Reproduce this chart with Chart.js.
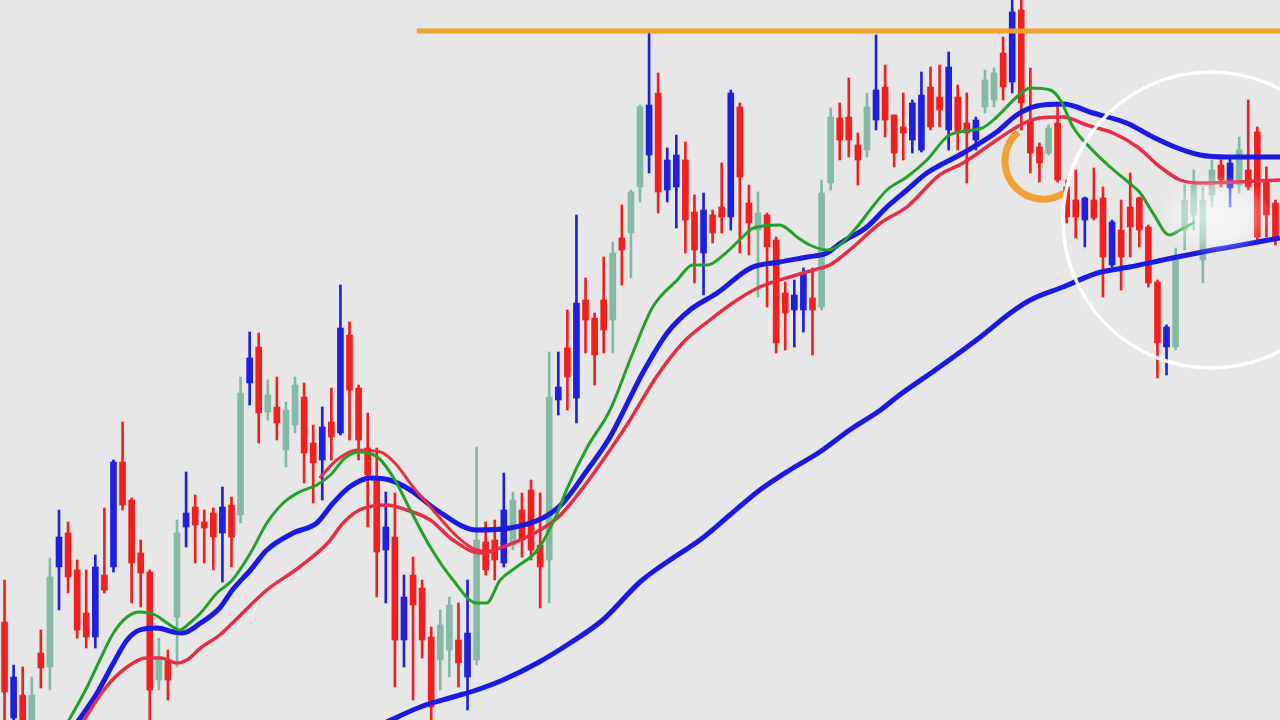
<!DOCTYPE html>
<html>
<head>
<meta charset="utf-8">
<script src="https://cdn.jsdelivr.net/npm/chart.js@4.4.1/dist/chart.umd.min.js"></script>
<style>
  html, body { margin: 0; padding: 0; background: #e7e7e7; overflow: hidden; }
  #wrap { width: 1280px; height: 720px; }
</style>
</head>
<body>
<div id="wrap"><canvas id="chart" width="1280" height="720"></canvas></div>
<script>
// candles, one per session (price units)
const openP = [98,2,25,0,67,53,153,187,150,107, 83,145,153,258,220,167,148,40,60,103,
  193,213,198,207,187,215,205,337,373,308, 313,270,295,323,277,260,298,287,385,332,
  272,240,170,183,80,145,132,83,60,70, 80,43,60,178,180,157,175,210,230,175,
  160,320,372,322,420,402,420,400,482,487, 533,565,627,530,533,560,508,467,505,513,
  503,613,517,490,505,480,427,410,410,422, 413,537,602,603,575,570,600,633,605,593,
  580,570,633,623,590,623,597,580,613,620, 667,638,710,600,573,567,597,533,520,500,
  520,522,455,490,513,522,493,438,373,373, 490,505,460,525,555,532,535,550,588,540,
  517];
const closeP = [28,43,0,25,52,143,183,143,90,83, 153,130,258,215,157,147,30,60,40,187,
  207,195,192,183,213,183,327,362,307,325, 297,310,335,267,257,293,283,392,330,280,
  245,168,193,80,123,115,80,13,95,115, 57,87,180,150,160,210,220,180,170,153,
  323,333,343,417,400,365,390,467,470,528, 613,615,528,560,565,500,470,510,487,503,
  627,543,497,507,473,377,407,425,447,410, 527,603,580,580,560,613,630,600,567,587,
  617,625,593,610,653,587,587,600,640,647, 633,708,617,567,557,592,540,503,503,522,
  502,463,498,463,493,490,437,377,393,460, 520,535,520,550,540,557,570,533,483,505,
  480];
const highP = [140,55,53,43,90,162,210,198,160,150, 165,212,260,298,222,180,150,82,70,200,
  248,225,210,212,233,223,343,388,387,340, 343,318,343,337,295,313,332,435,398,335,
  307,272,228,227,145,163,140,93,110,123, 117,140,273,198,200,247,228,227,240,227,
  368,368,410,505,442,407,463,478,515,530, 615,687,647,572,585,578,525,527,510,557,
  630,617,535,528,507,483,438,440,452,452, 540,612,617,642,587,627,685,655,605,627,
  620,648,653,655,668,635,627,603,650,652, 683,725,725,652,577,595,617,540,550,523,
  552,533,500,520,547,523,495,440,395,472, 535,550,533,560,560,562,583,620,593,553,
  520];
const lowP = [-5,-5,-5,-5,32,30,110,127,82,72, 72,127,148,210,117,113,-2,30,20,53,
  173,157,157,150,138,153,197,315,277,300, 280,253,287,237,217,220,260,285,280,260,
  193,123,117,33,53,20,62,-2,30,43, 33,10,55,145,140,153,170,163,160,112,
  117,305,310,297,367,335,367,367,435,442, 518,547,507,518,492,467,437,425,477,487,
  490,467,465,423,413,367,370,373,388,365, 410,530,560,563,535,563,590,583,553,560,
  567,568,590,593,570,570,537,570,607,613, 620,627,590,547,538,565,538,497,482,473,
  500,423,453,430,463,473,433,342,345,370, 470,490,437,513,533,513,527,530,480,483,
  475];
// faded (grey-green) candles
const ghostIdx = [3,5,17,19,26,29,31,32,48,49,52,56,60,67,69,70,83,90,91,95,108,109,115,129,130,131,132,133,136];

// moving averages: x = session index, y = price
const fastX = [6.8,9.1,10.5,12.0,13.5,14.9,16.6,17.9,19.3,20.4,21.6,23.4,25.1,27.1,28.9,30.7,32.5,34.4,35.9,37.5,
  39.1,41.2,43.0,44.7,46.9,49.4,52.0,53.1,54.6,56.4,58.7,60.9,61.9,64.2,66.7,69.2,71.4,74.1,75.8,77.4,
  79.2,81.3,82.5,85.4,87.3,88.7,90.6,91.7,93.9,95.6,97.2,99.4,101.6,104.1,107.7,109.3,111.5,113.0,115.2,116.3,
  117.7,119.5,121.8,123.9,125.1,126.5,128.3,129.5,131.1];
const fastY = [-5,33,60,87,103,108,105,97,90,97,107,127,140,167,197,217,228,235,245,262,
  268,262,240,210,173,140,117,117,140,153,170,207,230,273,310,367,413,440,455,455,
  465,483,492,495,483,475,470,473,493,513,530,543,560,585,592,603,623,632,630,620,
  593,573,553,537,527,507,485,490,498];
const midX = [7.8,10.2,12.0,13.5,14.9,16.8,18.6,19.6,21.6,23.7,25.1,27.1,28.9,31.8,34.4,36.2,38.0,40.3,42.4,44.7,
  47.6,52.0,55.7,59.3,61.5,64.2,66.7,70.3,73.0,75.5,78.5,82.2,85.4,88.4,90.6,92.1,95.0,97.2,99.4,101.6,
  105.6,109.3,111.5,113.7,116.6,119.9,123.6,126.5,129.2,131.7,134.7,140.5];
const midY = [-5,27,57,80,90,92,88,87,97,112,130,150,170,187,197,217,233,242,240,230,
  210,190,192,202,217,250,283,347,387,410,427,452,458,463,467,477,493,513,530,547,
  567,588,605,614,616,607,597,583,572,565,563,563];
const redX = [8.4,11.2,13.5,15.6,17.2,19.0,20.1,21.6,23.7,25.1,28.9,32.5,35.6,37.3,39.1,42.1,44.3,46.9,49.4,52.4,
  53.9,56.8,60.9,64.2,66.7,68.9,71.8,74.7,77.7,80.7,83.2,86.5,89.1,90.9,93.1,96.5,99.4,103.0,105.6,109.3,
  111.9,114.0,116.6,119.2,122.1,124.8,127.3,129.5,131.7,140.5];
const redY = [-5,33,53,62,62,57,60,72,85,97,130,153,177,197,210,215,210,200,180,167,
  170,180,202,238,270,300,343,377,400,420,433,443,450,455,470,497,513,545,557,580,
  595,602,603,595,587,573,553,540,537,540];
const red2X = [34.7,36.6,38.8,41.4,43.0,45.0,46.9,49.9,52.0,53.9];
const red2Y = [242,260,270,268,257,233,213,183,170,168];
const longX = [41.4,45.8,49.4,52.0,54.9,58.7,62.3,65.9,70.0,73.3,76.6,79.9,83.2,86.5,89.8,93.1,96.5,98.3,103.0,107.5,
  110.8,113.0,116.6,120.4,123.9,127.6,131.4,135.0,140.5];
const longY = [-5,13,23,30,40,57,77,100,138,160,180,205,230,250,268,290,310,323,353,383,
  407,420,433,447,453,460,467,473,482];
const resistX = [45.4,140.5];
const resistY = [689,689];

const marks = {
  arc: { x: 114.4, y: 559, r: 4.2, from: 57, to: 229 },
  ring: { x: 132.9, y: 500, r: 16.3 },
  glow: { x: 133.3, y: 505, r: 4.5 }
};

const RED = '#f21f1f', BLUE = '#1f1fe0', GHOST = '#84b9a5';

function candleColor(i) {
  if (ghostIdx.includes(i)) return GHOST;
  return closeP[i] < openP[i] ? RED : BLUE;
}

function pts(xs, ys) {
  return xs.map((x, i) => ({ x: x, y: ys[i] }));
}

function lineSet(xs, ys, color, width) {
  return {
    type: 'line',
    data: pts(xs, ys),
    borderColor: color,
    borderWidth: width,
    pointRadius: 0,
    fill: false,
    cubicInterpolationMode: 'monotone',
    order: 1
  };
}

const idx = openP.map((_, i) => i);
const colors = idx.map(candleColor);

const markPlugin = {
  id: 'marks',
  afterDatasetsDraw(chart) {
    const ctx = chart.ctx;
    const xs = chart.scales.x, ys = chart.scales.y;
    const px = v => xs.getPixelForValue(v);
    const py = v => ys.getPixelForValue(v);

    const a = marks.arc;
    ctx.save();
    ctx.strokeStyle = '#f0a035';
    ctx.lineWidth = 7;
    ctx.beginPath();
    ctx.arc(px(a.x), py(a.y), px(a.x + a.r) - px(a.x), a.from * Math.PI / 180, a.to * Math.PI / 180);
    ctx.stroke();

    const g = marks.glow;
    const gx = px(g.x), gy = py(g.y), gr = px(g.x + g.r) - px(g.x);
    ctx.translate(gx, gy);
    ctx.scale(1.4, 1);
    const grad = ctx.createRadialGradient(0, 0, 0, 0, 0, gr);
    grad.addColorStop(0, 'rgba(255,255,255,0.7)');
    grad.addColorStop(0.6, 'rgba(255,255,255,0.4)');
    grad.addColorStop(1, 'rgba(255,255,255,0)');
    ctx.fillStyle = grad;
    ctx.beginPath();
    ctx.arc(0, 0, gr, 0, Math.PI * 2);
    ctx.fill();
    ctx.restore();

    const c = marks.ring;
    ctx.save();
    ctx.strokeStyle = 'rgba(255,255,255,0.95)';
    ctx.lineWidth = 3.5;
    ctx.beginPath();
    ctx.arc(px(c.x), py(c.y), px(c.x + c.r) - px(c.x), 0, Math.PI * 2);
    ctx.stroke();
    ctx.restore();
  }
};

new Chart(document.getElementById('chart'), {
  type: 'bar',
  data: {
    datasets: [
      lineSet(resistX, resistY, '#f2a12a', 5),
      lineSet(longX, longY, '#1a1ae0', 5),
      lineSet(fastX, fastY, '#22a02a', 3),
      lineSet(red2X, red2Y, '#e6303f', 3),
      lineSet(redX, redY, '#e52d45', 3.5),
      lineSet(midX, midY, '#1a1ae0', 5),
      {
        label: 'body',
        data: idx.map(i => ({ x: i, y: [Math.min(openP[i], closeP[i]), Math.max(openP[i], closeP[i])] })),
        backgroundColor: colors,
        barThickness: 6,
        grouped: false,
        borderWidth: 0,
        order: 2
      },
      {
        label: 'wick',
        data: idx.map(i => ({ x: i, y: [lowP[i], highP[i]] })),
        backgroundColor: colors,
        barThickness: 2,
        grouped: false,
        borderWidth: 0,
        order: 3
      }
    ]
  },
  options: {
    responsive: false,
    animation: false,
    layout: { padding: 0 },
    plugins: { legend: { display: false }, tooltip: { enabled: false } },
    scales: {
      x: { type: 'linear', min: -0.5, max: openP.length - 0.5, offset: false, display: false },
      y: { min: 0, max: 720, display: false }
    }
  },
  plugins: [markPlugin]
});
</script>
</body>
</html>
